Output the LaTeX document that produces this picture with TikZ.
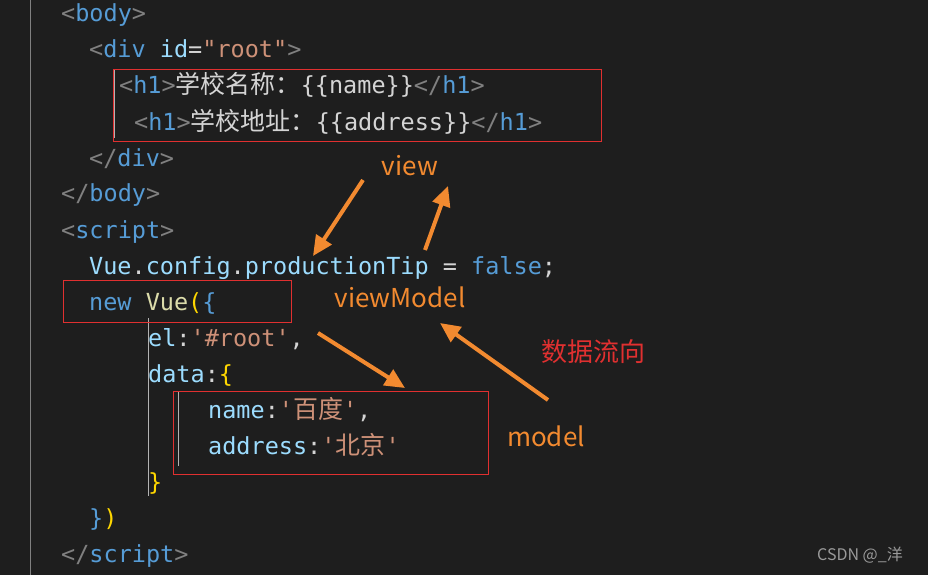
\documentclass[tikz,border=0pt]{standalone}
\usepackage{fontspec}
\setmonofont{DejaVu Sans Mono}
\newfontfamily\cjk{Noto Sans CJK SC}
\usetikzlibrary{arrows.meta}
\definecolor{bg}{HTML}{1E1E1E}
\definecolor{tg}{HTML}{808080}
\definecolor{tn}{HTML}{569CD6}
\definecolor{at}{HTML}{9CDCFE}
\definecolor{st}{HTML}{CE9178}
\definecolor{tx}{HTML}{D4D4D4}
\definecolor{yl}{HTML}{FFD700}
\definecolor{vc}{HTML}{DCDCAA}
\definecolor{rd}{HTML}{E03030}
\definecolor{og}{HTML}{F28A30}
\newcommand{\cc}[2]{\textcolor{#1}{#2}}
\newcommand{\zh}[1]{{\cjk\fontsize{25}{25}\selectfont #1}}
\tikzset{
  code/.style={anchor=base west, inner sep=0pt, font=\ttfamily\fontsize{23.5}{23.5}\selectfont, text=tx},
  box/.style={draw=rd, line width=1pt},
  ann/.style={anchor=center, inner sep=0pt, font=\cjk\fontsize{26}{26}\selectfont},
  arr/.style={draw=og, line width=4pt, -{Triangle[length=20pt,width=18pt]}},
  guide/.style={draw=tg!60, line width=0.8pt}
}
\begin{document}
\begin{tikzpicture}[x=1pt,y=-1pt]
\fill[bg] (0,0) rectangle (928,575);
\useasboundingbox (0,0) rectangle (928,575);
\draw[guide, draw=tg] (30,0) -- (30,575);
\draw[guide] (114,70) -- (114,138);
\draw[guide] (148,318) -- (148,496);
\draw[guide] (178,392) -- (178,466);
\node[code] (l1) at (61,22) {\cc{tg}{<}\cc{tn}{body}\cc{tg}{>}};
\node[code] (l2) at (89,58) {\cc{tg}{<}\cc{tn}{div} \cc{at}{id}=\cc{st}{"root"}\cc{tg}{>}};
\node[code] (l3) at (119,94) {\cc{tg}{<}\cc{tn}{h1}\cc{tg}{>}\zh{学校名称：}\{\{name\}\}\cc{tg}{</}\cc{tn}{h1}\cc{tg}{>}};
\node[code] (l4) at (134,130) {\cc{tg}{<}\cc{tn}{h1}\cc{tg}{>}\zh{学校地址：}\{\{address\}\}\cc{tg}{</}\cc{tn}{h1}\cc{tg}{>}};
\node[code] (l5) at (89,166) {\cc{tg}{</}\cc{tn}{div}\cc{tg}{>}};
\node[code] (l6) at (61,201) {\cc{tg}{</}\cc{tn}{body}\cc{tg}{>}};
\node[code] (l7) at (61,238) {\cc{tg}{<}\cc{tn}{script}\cc{tg}{>}};
\node[code] (l8) at (89,274) {\cc{at}{Vue}.\cc{at}{config}.\cc{at}{productionTip} = \cc{tn}{false};};
\node[code] (l9) at (89,310) {\cc{tn}{new} \cc{vc}{Vue}\cc{yl}{(}\cc{tn}{\{}};
\node[code] (l10) at (148,346) {\cc{at}{el}:\cc{st}{'\#root'},};
\node[code] (l11) at (148,382) {\cc{at}{data}:\cc{yl}{\{}};
\node[code] (l12) at (208,418) {\cc{at}{name}:\cc{st}{'\zh{百度}'},};
\node[code] (l13) at (208,454) {\cc{at}{address}:\cc{st}{'\zh{北京}'}};
\node[code] (l14) at (148,490) {\cc{yl}{\}}};
\node[code] (l15) at (89,526) {\cc{tn}{\}}\cc{yl}{)}};
\node[code] (l16) at (61,562) {\cc{tg}{</}\cc{tn}{script}\cc{tg}{>}};
\draw[box] (113,70) rectangle (601,141);
\draw[box] (63,280) rectangle (291,322);
\draw[box] (173,391) rectangle (488,474);
\node[ann, text=og] (view) at (410,166) {view};
\node[ann, text=og] (vm) at (400,297) {viewModel};
\node[ann, text=og] (model) at (546,436) {model};
\node[ann, text=rd] (flow) at (593,352) {数据流向};
\coordinate (a1s) at (363,180); \coordinate (a1e) at (313,256);
\coordinate (a2s) at (425,250); \coordinate (a2e) at (448,186);
\coordinate (a3s) at (318,333); \coordinate (a3e) at (405,388);
\coordinate (a4s) at (548,400); \coordinate (a4e) at (440,323);
\draw[arr] (a1s) -- (a1e);
\draw[arr] (a2s) -- (a2e);
\draw[arr] (a3s) -- (a3e);
\draw[arr] (a4s) -- (a4e);
\node[anchor=center, inner sep=0pt, text=tg!80, font=\cjk\fontsize{16}{16}\selectfont] (wm) at (860,555) {CSDN @\_洋};
\end{tikzpicture}
\end{document}
